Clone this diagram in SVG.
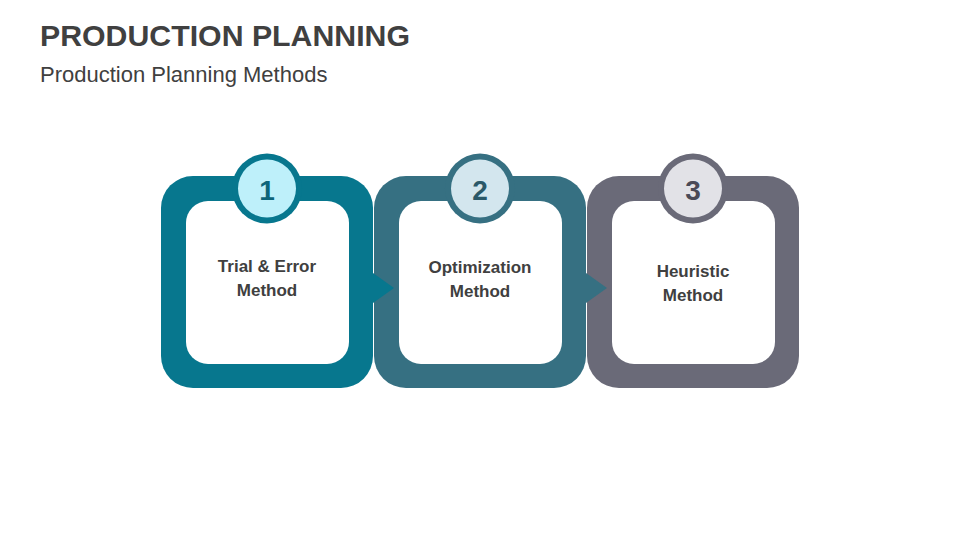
<svg xmlns="http://www.w3.org/2000/svg" width="960" height="540" viewBox="0 0 960 540">
  <style>
    text { font-family: "Liberation Sans", Arial, sans-serif; }
    .title { font-size: 30px; font-weight: bold; fill: #404040; }
    .sub { font-size: 22px; fill: #404040; }
    .lbl { font-size: 17px; font-weight: bold; fill: #404040; text-anchor: middle; }
    .num { font-size: 28px; font-weight: bold; text-anchor: middle; }
    .inner { fill: #FFFFFF; }
  </style>
  <rect width="960" height="540" fill="#FFFFFF"/>
  <text class="title" x="40" y="46" textLength="370" lengthAdjust="spacingAndGlyphs">PRODUCTION PLANNING</text>
  <text class="sub" x="40" y="82">Production Planning Methods</text>

  <g id="node1">
    <rect x="161" y="176" width="212" height="212" rx="32" fill="#07778E"/>
    <rect class="inner" x="186" y="201" width="163" height="163" rx="22"/>
    <circle cx="267" cy="188.5" r="35" fill="#07778E"/>
    <circle cx="267" cy="188.5" r="29" fill="#BEF0FA"/>
    <text class="num" x="267" y="200" fill="#0D6479">1</text>
    <text class="lbl" x="267" y="272">Trial &amp; Error</text>
    <text class="lbl" x="267" y="296">Method</text>
  </g>

  <g id="node2">
    <rect x="374" y="176" width="212" height="212" rx="32" fill="#367082"/>
    <rect class="inner" x="399" y="201" width="163" height="163" rx="22"/>
    <circle cx="480" cy="188.5" r="35" fill="#367082"/>
    <circle cx="480" cy="188.5" r="29" fill="#D3E6EE"/>
    <text class="num" x="480" y="200" fill="#2A5868">2</text>
    <text class="lbl" x="480" y="273">Optimization</text>
    <text class="lbl" x="480" y="297">Method</text>
  </g>

  <g id="node3">
    <rect x="587" y="176" width="212" height="212" rx="32" fill="#6A6A78"/>
    <rect class="inner" x="612" y="201" width="163" height="163" rx="22"/>
    <circle cx="693" cy="188.5" r="35" fill="#6A6A78"/>
    <circle cx="693" cy="188.5" r="29" fill="#E2E2E7"/>
    <text class="num" x="693" y="200" fill="#4A4A57">3</text>
    <text class="lbl" x="693" y="277">Heuristic</text>
    <text class="lbl" x="693" y="301">Method</text>
  </g>

  <g id="connectors">
    <polygon points="373,273 394,288 373,303" fill="#07778E"/>
    <polygon points="586,273 607,288 586,303" fill="#367082"/>
  </g>
</svg>
